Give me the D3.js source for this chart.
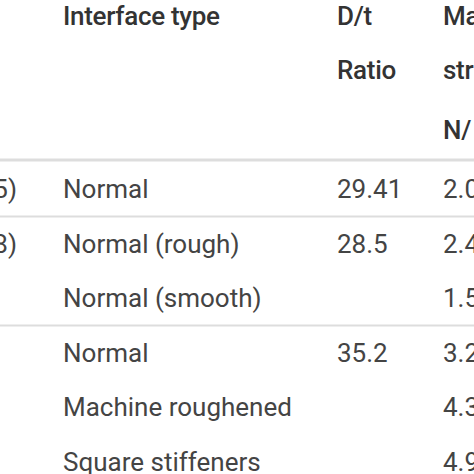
<!DOCTYPE html>
<html><head><meta charset="utf-8">
<script src="https://cdn.jsdelivr.net/npm/d3@7"></script>
<style>body{margin:0;background:#fff}svg{display:block}</style>
</head><body><div id="table"></div>
<script>
const width = 474, height = 474;
const refs = ["5)", "8)", "", "", "", ""];
const interfaces = ["Normal", "Normal (rough)", "Normal (smooth)", "Normal", "Machine roughened", "Square stiffeners"];
const ratios = ["29.41", "28.5", "", "35.2", "", ""];
const strengths = ["2.0", "2.4", "1.5", "3.2", "4.3", "4.9"];
const headerLines = [["Interface type", "D/t", "Ma"], ["", "Ratio", "str"], ["", "", "N/"]];
const separators = [1, 3]; // row indices with a rule above

const svg = d3.select("#table").append("svg").attr("width", width).attr("height", height);
const colX = [17, 63, 337, 443];
const rowY = d3.scaleLinear().domain([0, 1]).range([198, 252.5]);
const headY = [25, 79, 139];

headerLines.forEach((line, i) => {
  line.forEach((t, j) => {
    svg.append("text").attr("x", colX[j + 1]).attr("y", headY[i])
      .attr("font-family", "Roboto").attr("font-weight", 500).attr("font-size", 26)
      .attr("letter-spacing", -0.3).attr("fill", "#333").text(t);
  });
});

svg.append("line").attr("x1", 0).attr("x2", width).attr("y1", 160).attr("y2", 160)
  .attr("stroke", "#ddd").attr("stroke-width", 3);
separators.forEach(r => {
  const y = rowY(r) - 36;
  svg.append("line").attr("x1", 0).attr("x2", width).attr("y1", y).attr("y2", y)
    .attr("stroke", "#ddd").attr("stroke-width", 2);
});

const cols = [refs, interfaces, ratios, strengths];
cols.forEach((col, j) => {
  svg.selectAll(null).data(col).enter().append("text")
    .attr("x", colX[j]).attr("y", (d, i) => rowY(i))
    .attr("text-anchor", j === 0 ? "end" : "start")
    .attr("font-family", "Roboto").attr("font-size", 26).attr("fill", "#444")
    .text(d => d);
});
</script></body></html>
